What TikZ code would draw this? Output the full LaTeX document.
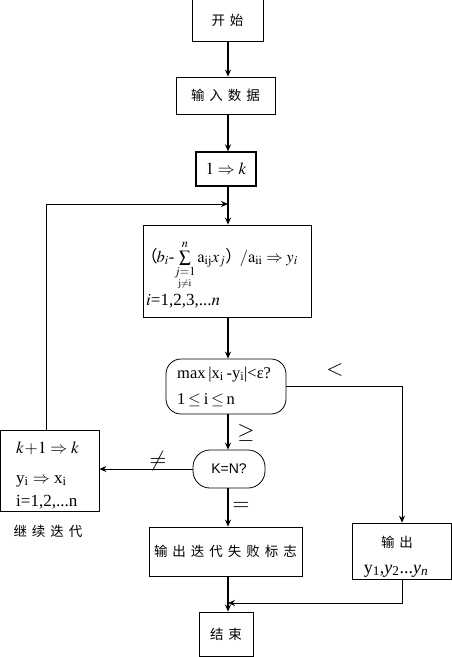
\documentclass[tikz,border=0pt]{standalone}
\usepackage{amsmath}
\usepackage{mathptmx}
\usepackage{fontspec}
\setmainfont{Liberation Serif}
\newfontfamily\cjk{Noto Sans CJK SC}
\newfontfamily\arialf{Liberation Sans}
\usetikzlibrary{arrows.meta}
\newcommand\cs{\hspace{5pt}}
\begin{document}
\begin{tikzpicture}[x=1pt,y=-1pt,
  box/.style={draw, line width=0.8pt, inner sep=0pt, align=center},
  cbox/.style={box, font=\cjk\fontsize{13.5}{15}\selectfont},
  rbox/.style={box, rounded corners=15pt},
  txt/.style={inner sep=0pt, font=\fontsize{17}{19}\selectfont},
  mainarr/.style={line width=1.6pt, -{Stealth[length=7pt,width=6pt]}},
  thinarr/.style={line width=0.8pt, -{Stealth[length=7pt,width=6pt]}},
  lbl/.style={inner sep=0pt, font=\fontsize{22}{22}\selectfont}]
\useasboundingbox (0,0) rectangle (451,657);
\fill[white] (0,0) rectangle (451,657);
\coordinate (mx) at (228,0);
\coordinate (rx) at (402,0);
\coordinate (lx) at (46,0);
% boxes
\node[cbox, minimum width=71pt, minimum height=42pt] (start) at (227.5,20) {开\cs 始};
\node[cbox, minimum width=99pt, minimum height=37pt] (input) at (225.5,95.5) {输\cs 入\cs 数\cs 据};
\node[box, line width=1.3pt, minimum width=60pt, minimum height=34pt, font=\fontsize{17}{18}\selectfont] (init) at (226,169) {$1\Rightarrow k$};
\node[box, minimum width=168pt, minimum height=92pt] (calc) at (227,271) {};
\node[txt, anchor=base west, font=\fontsize{16.5}{18}\selectfont] (fml) at (141,262) {\hbox{\cjk （}\kern-1pt$b_i\text{-}\!\sum\limits_{\substack{\scriptstyle j=1\\ \scriptscriptstyle \mathrm{j}\neq\mathrm{i}}}^{n}\mathrm{a}_{\mathrm{ij}}x_j$\hbox{\cjk ）}\kern-2pt$/\mathrm{a}_{\mathrm{ii}}\Rightarrow y_i$};
\node[txt, anchor=base west] (idx) at (146,305) {$i$=1,2,3,...$n$};
\node[rbox, minimum width=120pt, minimum height=55pt] (dec1) at (226,386.5) {};
\node[txt, anchor=base west, font=\fontsize{16.5}{18}\selectfont] (d1a) at (177,378) {max\,|x\textsubscript{i}\,-y\textsubscript{i}|<ε?};
\node[txt, anchor=base west, font=\fontsize{16.5}{18}\selectfont] (d1b) at (177,404) {1\,$\leq$\,i\,$\leq$\,n};
\node[rbox, rounded corners=17pt, minimum width=72pt, minimum height=38pt, font=\arialf\fontsize{14}{16}\selectfont] (dec2) at (229,469) {K=N?};
\node[box, minimum width=99pt, minimum height=81pt] (upd) at (49.5,470.5) {};
\node[txt, anchor=base west] (u1) at (16,453) {$k\!+\!1\Rightarrow k$};
\node[txt, anchor=base west] (u2) at (16,483) {y\textsubscript{i} $\Rightarrow$ x\textsubscript{i}};
\node[txt, anchor=base west] (u3) at (16,506) {i=1,2,...n};
\node[inner sep=0pt, font=\cjk\fontsize{13.5}{15}\selectfont] (cont) at (48,531) {继\cs 续\cs 迭\cs 代};
\node[cbox, minimum width=153pt, minimum height=49pt] (fail) at (225.5,551.5) {输\cs 出\cs 迭\cs 代\cs 失\cs 败\cs 标\cs 志};
\node[box, minimum width=99pt, minimum height=56pt] (out) at (401.5,551) {};
\node[inner sep=0pt, font=\cjk\fontsize{13.5}{15}\selectfont] (o1) at (397,542) {输\cs 出};
\node[txt, anchor=base, font=\fontsize{18}{20}\selectfont] (o2) at (396,573) {y\textsubscript{1},\textit{y}\textsubscript{2}...\textit{y}\textsubscript{\textit{n}}};
\node[cbox, minimum width=54pt, minimum height=44pt] (end) at (226,634) {结\cs 束};
% labels
\node[lbl] (lt) at (335,370) {$<$};
\node[lbl] (ge) at (246,433) {$\geq$};
\node[lbl] (ne) at (158,461) {$\neq$};
\node[lbl] (eq) at (241,506) {$=$};
% connectors
\coordinate (join) at (228,204);
\coordinate (merge) at (228,603);
\draw[mainarr] (start.south -| mx) -- (input.north -| mx);
\draw[mainarr] (input.south -| mx) -- (init.north -| mx);
\draw[mainarr] (init.south -| mx) -- (calc.north -| mx);
\draw[mainarr] (calc.south -| mx) -- (dec1.north -| mx);
\draw[mainarr] (dec1.south -| mx) -- (dec2.north -| mx);
\draw[mainarr] (dec2.south -| mx) -- (fail.north -| mx);
\draw[mainarr] (fail.south -| mx) -- (end.north -| mx);
\draw[thinarr] (dec2.west) -- (upd.east |- dec2.west);
\draw[thinarr] (upd.north -| lx) -- (lx |- join) -- (join);
\draw[thinarr] (dec1.east) -- (dec1.east -| rx) -- (out.north -| rx);
\draw[thinarr] (out.south -| rx) -- (rx |- merge) -- (merge);
\end{tikzpicture}
\end{document}
